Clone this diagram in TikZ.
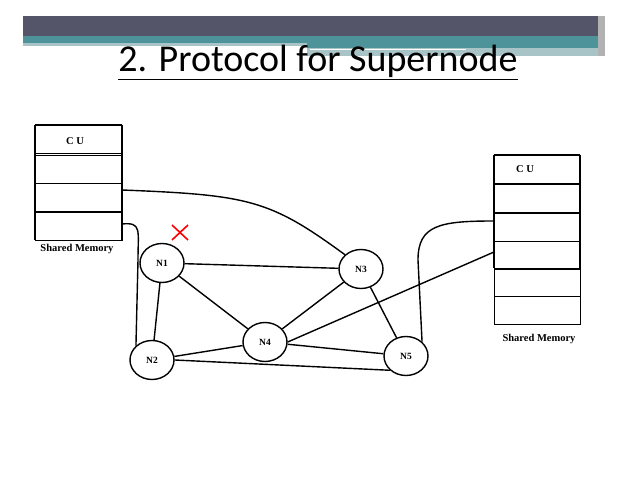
\documentclass[tikz,border=0pt]{standalone}
\usepackage{fontspec}
\setmainfont{Liberation Serif}
\newfontfamily\titlefont{Carlito}
\usetikzlibrary{shapes.geometric}
\definecolor{bandDark}{HTML}{555569}
\definecolor{bandTeal}{HTML}{4E9399}
\definecolor{bandLight}{HTML}{A9C4C7}
\begin{document}
\begin{tikzpicture}[x=1pt,y=-1pt,
  nd/.style={draw,line width=1.4pt,ellipse,minimum width=44pt,minimum height=39pt,inner sep=0pt,font=\fontsize{9.5}{10}\selectfont\bfseries},
  edge/.style={line width=1.4pt},
  lbl/.style={font=\fontsize{10.5}{11}\selectfont\bfseries}]
\useasboundingbox[fill=white] (0,0) rectangle (638,478);
% banner
\fill[bandDark] (23,16) rectangle (605,36);
\fill[bandTeal] (23,36) rectangle (605,43);
\fill[bandLight] (23,43) rectangle (307,46);
\fill[bandLight] (307,43) rectangle (605,56);
\fill[bandTeal] (307,43) rectangle (605,48);
\fill[white] (310,49) rectangle (466,50);
\fill[gray!60] (598,16) rectangle (605,56);
\node[font=\titlefont\fontsize{38}{40}\selectfont,anchor=base] (title) at (318,72) {\underline{2. Protocol for Supernode}};
% left memory box
\foreach \y in {125,155,183,212} {\draw[line width=0.8pt] (35,\y) rectangle (122,\y+28.5);}
\draw[line width=1.5pt] (35,125) -- (35,240) (122,125) -- (122,240) (35,125) -- (122,125);
\node[lbl] (cuL) at (75,141) {C U};
\node[lbl] (smL) at (77,249) {Shared Memory};
\coordinate (L1) at (122,190);
\coordinate (L2) at (122,224);
% right memory box
\foreach \y in {155,184,213,241,268,296} {\draw[line width=0.8pt] (494,\y) rectangle (580,\y+28);}
\draw[line width=1.5pt] (494,155) -- (494,268) (580,155) -- (580,268) (494,155) -- (580,155);
\node[lbl] (cuR) at (525,169) {C U};
\node[lbl] (smR) at (539,339) {Shared Memory};
\coordinate (R1) at (494,221);
\coordinate (R2) at (494,252);
% nodes
\node[nd] (n1) at (162,263) {N1};
\node[nd] (n3) at (361,269) {N3};
\node[nd] (n4) at (265,342) {N4};
\node[nd] (n2) at (152,360) {N2};
\node[nd] (n5) at (406,356) {N5};
% cross
\draw[red,line width=1.6pt] (172,225) -- (188,240) (188,225) -- (172,240);
% edges
\draw[edge] (n1) -- (n3);
\draw[edge] (n1) -- (n4);
\draw[edge] (n1) -- (n2);
\draw[edge] (n4) -- (n3);
\draw[edge] (n3) -- (n5);
\draw[edge] (n4) -- (n5);
\draw[edge] (n2) -- (n4);
\draw[edge] (n2.east) -- (n5.south west);
\draw[edge] (L1) .. controls (250,195) and (270,200) .. (n3.north west);
\draw[edge] (L2) .. controls (142,222) and (138,230) .. (138,260) -- (n2.north west);
\draw[edge] (n4.east) -- (R2);
\draw[edge] (n5.north east) -- (418,260) .. controls (418,225) and (440,221) .. (R1);
\end{tikzpicture}
\end{document}
